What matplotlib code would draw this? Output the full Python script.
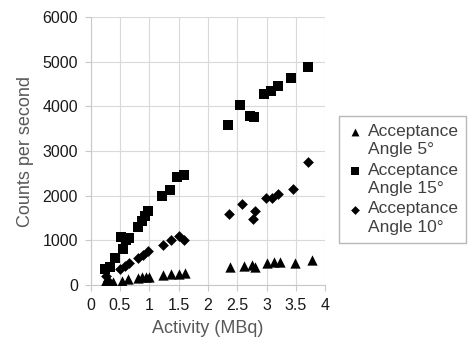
import numpy as np
import matplotlib
matplotlib.use('Agg')
from matplotlib import pyplot as plt

plt.rcParams['font.family'] = ['Liberation Sans', 'DejaVu Sans']

# acceptance angle 5 deg
x5 = [0.24, 0.39, 0.53, 0.64, 0.81, 0.88, 0.94, 1.00, 1.23, 1.37, 1.50, 1.61, 2.38, 2.61, 2.76, 2.80, 3.00, 3.13, 3.23, 3.49, 3.78]
y5 = [70, 60, 100, 130, 165, 175, 185, 190, 225, 240, 240, 275, 410, 425, 440, 400, 490, 510, 515, 505, 560]

# acceptance angle 15 deg
x15 = [0.24, 0.33, 0.41, 0.56, 0.52, 0.61, 0.65, 0.81, 0.87, 0.93, 0.98, 1.21, 1.35, 1.47, 1.59, 2.35, 2.55, 2.72, 2.78, 2.96, 3.08, 3.19, 3.41, 3.70]
y15 = [370, 400, 610, 800, 1070, 1000, 1060, 1300, 1430, 1540, 1660, 2000, 2120, 2420, 2460, 3590, 4020, 3780, 3770, 4270, 4340, 4460, 4640, 4880]

# acceptance angle 10 deg
x10 = [0.26, 0.30, 0.50, 0.58, 0.65, 0.81, 0.90, 0.98, 1.24, 1.37, 1.50, 1.59, 2.36, 2.58, 2.77, 2.81, 2.99, 3.10, 3.20, 3.46, 3.70]
y10 = [200, 90, 370, 430, 490, 600, 670, 760, 900, 1010, 1100, 1010, 1590, 1810, 1470, 1650, 1950, 1940, 2030, 2140, 2750]

xticks = [0, 0.5, 1, 1.5, 2, 2.5, 3, 3.5, 4]
xticklabels = ['0', '0.5', '1', '1.5', '2', '2.5', '3', '3.5', '4']
yticks = [0, 1000, 2000, 3000, 4000, 5000, 6000]

fig = plt.figure(figsize=(4.74, 3.6), dpi=100)
ax = fig.add_axes([0.191, 0.208, 0.495, 0.745])

ax.scatter(x5, y5, marker='^', s=55, c='black', linewidths=0, label='Acceptance\nAngle 5°', zorder=3)
ax.scatter(x15, y15, marker='s', s=62, c='black', linewidths=0, label='Acceptance\nAngle 15°', zorder=3)
ax.scatter(x10, y10, marker='D', s=30, c='black', linewidths=0, label='Acceptance\nAngle 10°', zorder=3)

ax.set_xlim(0, 4)
ax.set_ylim(0, 6000)
ax.set_xticks(xticks)
ax.set_xticklabels(xticklabels)
ax.set_yticks(yticks)
ax.grid(True, color='#d9d9d9', linewidth=0.8)
ax.set_axisbelow(True)
for s in ['top', 'right']:
	ax.spines[s].set_visible(False)
for s in ['left', 'bottom']:
	ax.spines[s].set_color('#c8c8c8')
	ax.spines[s].set_linewidth(0.8)
ax.tick_params(colors='#c8c8c8', labelcolor='#1a1a1a', labelsize=11.5, length=4, pad=5)

ax.set_xlabel('Activity (MBq)', fontsize=13, color='#595959', labelpad=5)
ax.set_ylabel('Counts per second', fontsize=13, color='#595959', labelpad=6)

leg = ax.legend(loc='upper left', bbox_to_anchor=(339/474, 1-116/360), bbox_transform=fig.transFigure,
	fontsize=12.5, frameon=True, fancybox=False, edgecolor='#a6a6a6', handletextpad=0.2,
	handlelength=1.0, borderpad=0.45, labelspacing=0.3, borderaxespad=0, scatterpoints=1)
for t in leg.get_texts():
	t.set_color('#404040')
	t.set_linespacing(1.3)
# markers sit beside the first text line, as in the original
for h, sz in zip(leg.legend_handles, [32, 34, 20]):
	h.set_sizes([sz])
	off = np.array(h.get_offsets(), dtype=float)
	off[:, 1] += 7
	h.set_offsets(off)
leg.get_frame().set_linewidth(1.0)

fig.savefig('out.png', dpi=100)
